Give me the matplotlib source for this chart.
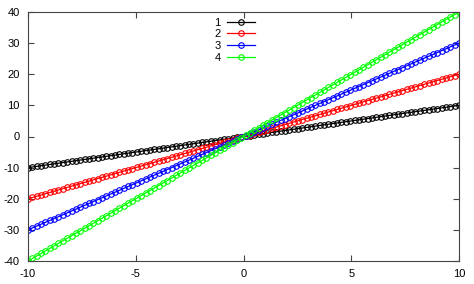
import numpy as np
import matplotlib.pyplot as plt

# slopes of the four lines, x sampled like gnuplot's default 100 samples
labels = ['1', '2', '3', '4']
slopes = [1, 2, 3, 4]
colors = ['black', 'red', 'blue', '#00ff00']
x = np.linspace(-10, 10, 100)

plt.rcParams['font.family'] = ['Liberation Sans', 'DejaVu Sans']
plt.rcParams['axes.unicode_minus'] = False
fig = plt.figure(figsize=(4.74, 2.84), dpi=100)
ax = fig.add_axes([28/474, 23/284, 431/474, 249/284])

for lab, k, c in zip(labels, slopes, colors):
    ax.plot(x, k * x, color=c, lw=0.9, marker='o', ms=4.0, mfc='none',
            mew=0.8, label=lab)

ax.set_xlim(-10, 10)
ax.set_ylim(-40, 40)
ax.set_xticks([-10, -5, 0, 5, 10])
ax.set_yticks(range(-40, 41, 10))
ax.tick_params(direction='in', length=4, labelsize=8, top=True, right=True,
               pad=6, color='#444444')
for s in ax.spines.values():
    s.set_color('#444444')

leg = ax.legend(loc='upper center', bbox_to_anchor=(0.48, 0.995),
                frameon=False, fontsize=8, markerfirst=False,
                handlelength=2.5, handletextpad=0.6, labelspacing=0.15,
                borderaxespad=0)
for t in leg.get_texts():
    t.set_ha('right')

fig.savefig('out.png', dpi=100)
